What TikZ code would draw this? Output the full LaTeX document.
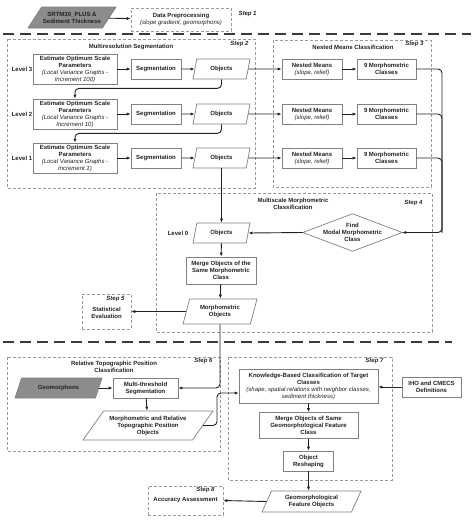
\documentclass[tikz,border=0pt]{standalone}
\usepackage{fontspec}
\setmainfont{Liberation Sans}
\usetikzlibrary{arrows.meta,shapes.geometric,calc}
\definecolor{boxgray}{HTML}{808080}
\definecolor{dgray}{HTML}{9A9A9A}
\definecolor{fillg}{HTML}{8C8C8C}
\definecolor{ink}{HTML}{222222}
\definecolor{sepc}{HTML}{3A3A3A}
\newcommand{\itp}[1]{{\mdseries\itshape #1}}
\begin{document}
\begin{tikzpicture}[x=1pt,y=-1pt,
  every node/.style={font=\fontsize{6}{7}\selectfont\bfseries, text=ink},
  box/.style={draw=boxgray, line width=0.7pt, fill=white, align=center, inner sep=1pt, minimum height=20pt},
  para/.style={trapezium, trapezium stretches body, draw=boxgray, line width=0.7pt, fill=white, align=center, inner sep=0.5pt},
  plang/.style 2 args={trapezium left angle=#1, trapezium right angle=#2},
  dbox/.style={draw=dgray, line width=0.6pt, dash pattern=on 3pt off 2pt, align=center},
  arr/.style={draw=ink, line width=0.9pt, -{Latex[length=4pt,width=3.2pt]}},
  conn/.style={draw=ink, line width=0.9pt},
  sepline/.style={draw=sepc, line width=1.2pt, dash pattern=on 11pt off 6pt},
  stepl/.style={font=\fontsize{6}{7}\selectfont\bfseries\itshape},
  ttl/.style={align=center}]
\useasboundingbox (0,0) rectangle (474,525);

% ---- step frames
\draw[dbox] (7,39) rectangle (255,188);
\draw[dbox] (273,40) rectangle (431,187);
\draw[dbox] (156,193) rectangle (432,332);
\draw[dbox] (7,357) rectangle (220,451);
\draw[dbox] (228,357) rectangle (392,480);

% ---- separators
\draw[sepline] (3,34) -- (471,34);
\draw[sepline] (3,342) -- (452,342);

% ---- step 1
\node[para, plang={42}{138}, fill=fillg, minimum width=88pt, minimum height=21pt] (srtm) at (72,17.5) {SRTM30\_PLUS \&\\Sediment Thickness};
\node[dbox, minimum width=100pt, minimum height=23pt, inner sep=1pt] (data) at (181,19.5) {Data Preprocessing\\\itp{(slope gradient, geomorphons)}};
\node[stepl, anchor=west] (s1) at (235,14) {Step 1};
\draw[arr] (srtm) -- (data);

% ---- step 2
\node[ttl] (t2) at (131,47) {Multiresolution Segmentation};
\node[stepl, anchor=east] (s2) at (252,44) {Step 2};
\foreach \lv/\yy/\inc in {3/69/100, 2/114/10, 1/158/1}{
  \node (lev\lv) at (22,\yy) {Level \lv};
  \node[box, minimum width=84pt, minimum height=30pt] (est\lv) at (75,\yy) {Estimate Optimum Scale\\Parameters\\\itp{(Local Variance Graphs -}\\\itp{Increment \inc)}};
  \node[box, minimum width=50pt] (seg\lv) at (156,\yy) {Segmentation};
  \node[para, plang={60}{120}, minimum width=57pt, minimum height=20pt] (obj\lv) at (221.5,\yy) {Objects};
  \node[box, minimum width=60pt] (nm\lv) at (312,\yy) {Nested Means\\\itp{(slope, relief)}};
  \node[box, minimum width=59pt] (mc\lv) at (386.5,\yy) {9 Morphometric\\Classes};
  \draw[arr] (est\lv) -- (seg\lv);
  \draw[arr] (seg\lv) -- (obj\lv);
  \draw[arr] (obj\lv) -- (nm\lv);
  \draw[arr] (nm\lv) -- (mc\lv);
}
\draw[arr, rounded corners=4pt] (obj3.south) -- ++(0,9) -| (est2.north);
\draw[arr, rounded corners=4pt] (obj2.south) -- ++(0,9) -| (est1.north);

% ---- step 3
\node[ttl] (t3) at (353,47) {Nested Means Classification};
\node[stepl, anchor=east] (s3) at (427,44) {Step 3};

% ---- step 4
\node[ttl] (t4) at (293,203.5) {Multiscale Morphometric\\Classification};
\node[stepl, anchor=east] (s4) at (426,203) {Step 4};
\node (lev0) at (178,233) {Level 0};
\node[para, plang={60}{120}, minimum width=57pt, minimum height=20pt] (obj0) at (221.5,233) {Objects};
\node[minimum width=99pt, minimum height=37pt, align=center, inner sep=0pt] (diam) at (352.5,232.5) {Find\\Modal Morphometric\\Class};
\draw[draw=boxgray, line width=0.7pt] (diam.north) -- (diam.east) -- (diam.south) -- (diam.west) -- cycle;
\node[box, minimum width=70pt, minimum height=27pt] (merge) at (221,270.5) {Merge Objects of the\\Same Morphometric\\Class};
\node[para, plang={64}{116}, minimum width=74pt, minimum height=25pt] (mobj) at (220,311.5) {Morphometric\\Objects};
\coordinate (bus) at (442,232.5);
\draw[conn, rounded corners=4pt] (mc2.east) -| (bus);
\draw[conn, rounded corners=4pt] (mc1.east) -| (bus);
\draw[arr, rounded corners=4pt] (mc3.east) -| (bus) -- (diam.east);
\draw[arr] (obj1.south) -- (obj0.north);
\draw[arr] (diam.west) -- (obj0.east);
\draw[arr] (obj0) -- (merge);
\draw[arr] (merge) -- (mobj);

% ---- step 5
\node[dbox, minimum width=49pt, minimum height=35pt, inner sep=0pt] (stat) at (106.5,311.5) {\\Statistical\\Evaluation};
\node[stepl, anchor=east] (s5) at (128,299) {Step 5};
\draw[arr] (mobj.west) -- (stat.east);

% ---- step 6
\node[ttl] (t6) at (114,367) {Relative Topographic Position\\Classification};
\node[stepl, anchor=east] (s6) at (216,361) {Step 6};
\node[para, plang={45}{135}, fill=fillg, minimum width=87pt, minimum height=20pt] (geo) at (58.5,388) {Geomorphons};
\node[box, minimum width=65pt] (mts) at (145.5,388) {Multi-threshold\\Segmentation};
\node[para, plang={45}{135}, minimum width=130pt, minimum height=29pt] (mrtp) at (148,425.5) {Morphometric and Relative\\Topographic Position\\Objects};
\draw[arr, rounded corners=4pt] (mobj.south) |- (mts.east);
\draw[arr] (geo) -- (mts);
\draw[arr] (mts) -- (mrtp);

% ---- step 7
\node[stepl, anchor=east] (s7) at (387,361) {Step 7};
\node[box, minimum width=139pt, minimum height=34pt] (kb) at (308.5,386) {Knowledge-Based Classification of Target\\Classes\\\itp{(shape, spatial relations with neighbor classes,}\\\itp{sediment thickness)}};
\node[box, minimum width=59pt] (iho) at (431.5,387) {IHO and CMECS\\Definitions};
\node[box, minimum width=99pt, minimum height=26pt] (merge2) at (308.5,425.5) {Merge Objects of Same\\Geomorphological Feature\\Class};
\node[box, minimum width=50pt] (resh) at (308.5,461) {Object\\Reshaping};
\node[para, plang={55}{125}, minimum width=99pt, minimum height=21pt] (gfo) at (311.5,501.5) {Geomorphological\\Feature Objects};
\coordinate (kbin) at ($(kb.west)+(0,7)$);
\draw[arr, rounded corners=4pt] (mrtp.east) -- (217,425.5) |- (kbin);
\draw[arr] (iho.west) -- (iho.west -| kb.east);
\draw[arr] (kb) -- (merge2);
\draw[arr] (merge2) -- (resh);
\draw[arr] (resh.south) -- (resh.south |- gfo.north);

% ---- step 8
\node[dbox, minimum width=75pt, minimum height=29pt, inner sep=0pt] (acc) at (185.5,500.5) {Accuracy Assessment};
\node[stepl, anchor=east] (s8) at (218,490) {Step 8};
\draw[arr] (gfo.west) -- (acc.east);
\end{tikzpicture}
\end{document}
